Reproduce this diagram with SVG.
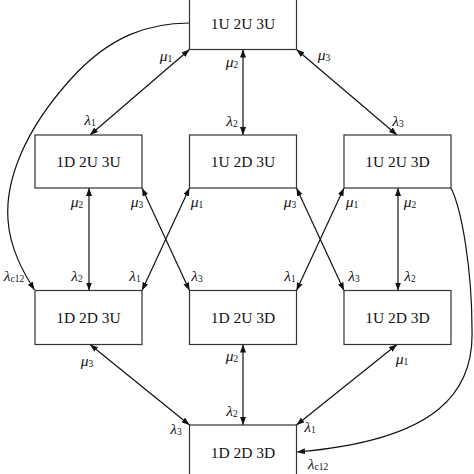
<svg xmlns="http://www.w3.org/2000/svg" width="474" height="474" viewBox="0 0 474 474">
<style>
.box{fill:#fff;stroke:#333;stroke-width:1.2}
.bt{font-family:"Liberation Serif",serif;font-size:15.5px;fill:#111;text-anchor:middle}
.ln{fill:none;stroke:#111;stroke-width:1.2}
.lb{font-family:"Liberation Serif",serif;font-style:italic;font-size:15.5px;fill:#111;text-anchor:middle}
.sb{font-size:9.5px;font-style:normal}
</style>
<defs>
<marker id="ah" viewBox="0 0 8 6" refX="8" refY="3" markerWidth="8" markerHeight="6" markerUnits="userSpaceOnUse" orient="auto-start-reverse">
<path d="M0,0 L8,3 L0,6 z" fill="#111"/>
</marker>
</defs>
<rect width="474" height="474" fill="#fff"/>
<g id="connectors">
<line class="ln" x1="189.5" y1="49.5" x2="90" y2="135" marker-start="url(#ah)" marker-end="url(#ah)"/>
<line class="ln" x1="243" y1="49.5" x2="243" y2="135" marker-start="url(#ah)" marker-end="url(#ah)"/>
<line class="ln" x1="296.5" y1="49.5" x2="397" y2="135" marker-start="url(#ah)" marker-end="url(#ah)"/>
<line class="ln" x1="89" y1="188" x2="89" y2="290.5" marker-start="url(#ah)" marker-end="url(#ah)"/>
<line class="ln" x1="142" y1="188" x2="189.5" y2="290.5" marker-start="url(#ah)" marker-end="url(#ah)"/>
<line class="ln" x1="189.5" y1="188" x2="142" y2="290.5" marker-start="url(#ah)" marker-end="url(#ah)"/>
<line class="ln" x1="296.5" y1="188" x2="344" y2="290.5" marker-start="url(#ah)" marker-end="url(#ah)"/>
<line class="ln" x1="344" y1="188" x2="296.5" y2="290.5" marker-start="url(#ah)" marker-end="url(#ah)"/>
<line class="ln" x1="398" y1="188" x2="398" y2="290.5" marker-start="url(#ah)" marker-end="url(#ah)"/>
<line class="ln" x1="90" y1="344.5" x2="189.5" y2="425" marker-start="url(#ah)" marker-end="url(#ah)"/>
<line class="ln" x1="243" y1="344.5" x2="243" y2="425" marker-start="url(#ah)" marker-end="url(#ah)"/>
<line class="ln" x1="397" y1="344.5" x2="296.5" y2="425" marker-start="url(#ah)" marker-end="url(#ah)"/>
<path class="ln" d="M189.5,23 C150,23 110,35 70,80 C25,130 5,180 8,220 C10,250 25,275 34.5,290" marker-end="url(#ah)"/>
<path class="ln" d="M451,188 C462,210 472,270 472,330 C474,390 440,440 297,452" marker-end="url(#ah)"/>
</g>
<g id="n_1U2U3U"><rect class="box" x="189.5" y="-3" width="107" height="52.5"/><text class="bt" x="243" y="29">1U 2U 3U</text></g>
<g id="n_1D2U3U"><rect class="box" x="35" y="135" width="107" height="53"/><text class="bt" x="88.5" y="167">1D 2U 3U</text></g>
<g id="n_1U2D3U"><rect class="box" x="189.5" y="135" width="107" height="53"/><text class="bt" x="243" y="167">1U 2D 3U</text></g>
<g id="n_1U2U3D"><rect class="box" x="344" y="135" width="107" height="53"/><text class="bt" x="397.5" y="167">1U 2U 3D</text></g>
<g id="n_1D2D3U"><rect class="box" x="35" y="290.5" width="107" height="54"/><text class="bt" x="88.5" y="323">1D 2D 3U</text></g>
<g id="n_1D2U3D"><rect class="box" x="189.5" y="290.5" width="107" height="54"/><text class="bt" x="243" y="323">1D 2U 3D</text></g>
<g id="n_1U2D3D"><rect class="box" x="344" y="290.5" width="107" height="54"/><text class="bt" x="397.5" y="323">1U 2D 3D</text></g>
<g id="n_1D2D3D"><rect class="box" x="189.5" y="425" width="107" height="60"/><text class="bt" x="243" y="458">1D 2D 3D</text></g>
<g id="labels">
<text class="lb" x="166" y="61">μ<tspan class="sb" dy="1">1</tspan></text>
<text class="lb" x="232" y="67">μ<tspan class="sb" dy="1">2</tspan></text>
<text class="lb" x="324" y="60">μ<tspan class="sb" dy="1">3</tspan></text>
<text class="lb" x="90" y="125">λ<tspan class="sb" dy="1">1</tspan></text>
<text class="lb" x="232" y="126">λ<tspan class="sb" dy="1">2</tspan></text>
<text class="lb" x="398" y="126">λ<tspan class="sb" dy="1">3</tspan></text>
<text class="lb" x="77" y="207">μ<tspan class="sb" dy="1">2</tspan></text>
<text class="lb" x="137" y="207">μ<tspan class="sb" dy="1">3</tspan></text>
<text class="lb" x="197" y="207">μ<tspan class="sb" dy="1">1</tspan></text>
<text class="lb" x="290" y="207">μ<tspan class="sb" dy="1">3</tspan></text>
<text class="lb" x="352" y="207">μ<tspan class="sb" dy="1">1</tspan></text>
<text class="lb" x="410" y="207">μ<tspan class="sb" dy="1">2</tspan></text>
<text class="lb" x="77" y="281">λ<tspan class="sb" dy="1">2</tspan></text>
<text class="lb" x="135" y="281">λ<tspan class="sb" dy="1">1</tspan></text>
<text class="lb" x="197" y="281">λ<tspan class="sb" dy="1">3</tspan></text>
<text class="lb" x="290" y="281">λ<tspan class="sb" dy="1">1</tspan></text>
<text class="lb" x="354" y="281">λ<tspan class="sb" dy="1">3</tspan></text>
<text class="lb" x="410" y="281">λ<tspan class="sb" dy="1">2</tspan></text>
<text class="lb" x="14" y="281">λ<tspan class="sb" dy="1" font-style="italic">c</tspan><tspan class="sb">12</tspan></text>
<text class="lb" x="87" y="366">μ<tspan class="sb" dy="1">3</tspan></text>
<text class="lb" x="232" y="361">μ<tspan class="sb" dy="1">2</tspan></text>
<text class="lb" x="402" y="364">μ<tspan class="sb" dy="1">1</tspan></text>
<text class="lb" x="232" y="416">λ<tspan class="sb" dy="1">2</tspan></text>
<text class="lb" x="176" y="434">λ<tspan class="sb" dy="1">3</tspan></text>
<text class="lb" x="310" y="432">λ<tspan class="sb" dy="1">1</tspan></text>
<text class="lb" x="318" y="469">λ<tspan class="sb" dy="1" font-style="italic">c</tspan><tspan class="sb">12</tspan></text>
</g>
</svg>
